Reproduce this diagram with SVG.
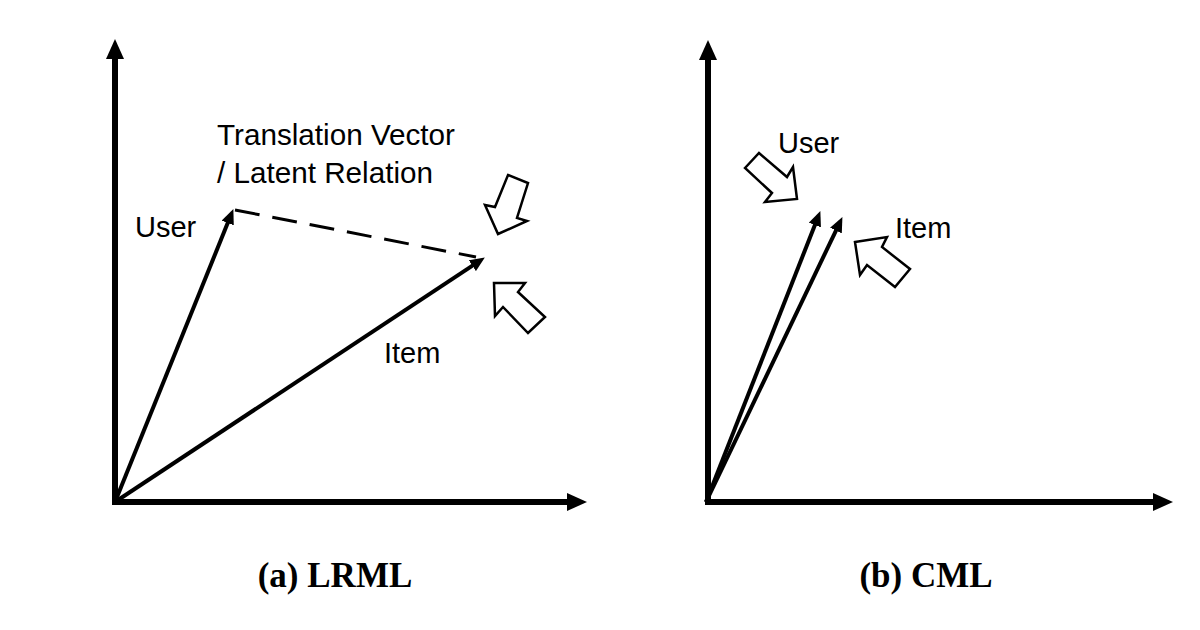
<svg xmlns="http://www.w3.org/2000/svg" width="1200" height="630" viewBox="0 0 1200 630">
<defs>
<marker id="axh" viewBox="0 -9 20 18" refX="2" refY="0" markerWidth="20" markerHeight="18" markerUnits="userSpaceOnUse" orient="auto">
<path d="M0,-9 L20,0 L0,9 z" fill="#000"/>
</marker>
<marker id="vh" viewBox="0 -6.5 15 13" refX="2" refY="0" markerWidth="15" markerHeight="13" markerUnits="userSpaceOnUse" orient="auto">
<path d="M0,-6.5 L15,0 L0,6.5 z" fill="#000"/>
</marker>
<style>
.axis{stroke:#000;stroke-width:6;fill:none;marker-end:url(#axh)}
.vec{stroke:#000;stroke-width:4;fill:none;marker-end:url(#vh)}
.dash{stroke:#000;stroke-width:3;fill:none;stroke-dasharray:25 13}
.open{fill:#fff;stroke:#000;stroke-width:2.5;stroke-linejoin:miter}
.lbl{font-family:"Liberation Sans",Arial,sans-serif;font-size:29px;fill:#000}
.cap{font-family:"Liberation Serif","Times New Roman",serif;font-weight:bold;font-size:35px;fill:#000;text-anchor:middle}
</style>
</defs>
<rect width="1200" height="630" fill="#fff"/>
<g id="connectors">
<line class="axis" x1="115" y1="505" x2="115" y2="57"/>
<line class="axis" x1="112" y1="502" x2="569" y2="502"/>
<line class="vec" x1="115" y1="502" x2="228.5" y2="221.1"/>
<line class="vec" x1="115" y1="502" x2="474" y2="264.6"/>
<line class="dash" x1="235" y1="210" x2="476" y2="257"/>
<line class="axis" x1="708" y1="505" x2="708" y2="58"/>
<line class="axis" x1="705" y1="502" x2="1155" y2="502"/>
<line class="vec" x1="706" y1="502" x2="815.6" y2="223.2"/>
<line class="vec" x1="706" y1="502" x2="836.8" y2="228.8"/>
</g>
<g id="arrows-a">
<polygon class="open" points="508,175 528,183 517,218 527,221 498,234 485,205 495,207"/>
<polygon class="open" points="494,283 525,283 518,292 545,317 528,333 503,307 495,316"/>
</g>
<g id="arrows-b">
<polygon class="open" points="745,168 759,153 787,177 793,167 797,199 765,202 772,193"/>
<polygon class="open" points="855,242 887,237 882,247 910,269 895,287 867,265 860,275"/>
</g>
<g id="labels-a">
<text class="lbl" x="217" y="145" textLength="238" lengthAdjust="spacingAndGlyphs">Translation Vector</text>
<text class="lbl" x="217" y="183" textLength="216" lengthAdjust="spacingAndGlyphs">/ Latent Relation</text>
<text class="lbl" x="135" y="237">User</text>
<text class="lbl" x="384" y="363">Item</text>
</g>
<g id="labels-b">
<text class="lbl" x="778" y="153">User</text>
<text class="lbl" x="895" y="238">Item</text>
</g>
<g id="captions">
<text class="cap" x="335" y="587">(a) LRML</text>
<text class="cap" x="926" y="587">(b) CML</text>
</g>
</svg>
